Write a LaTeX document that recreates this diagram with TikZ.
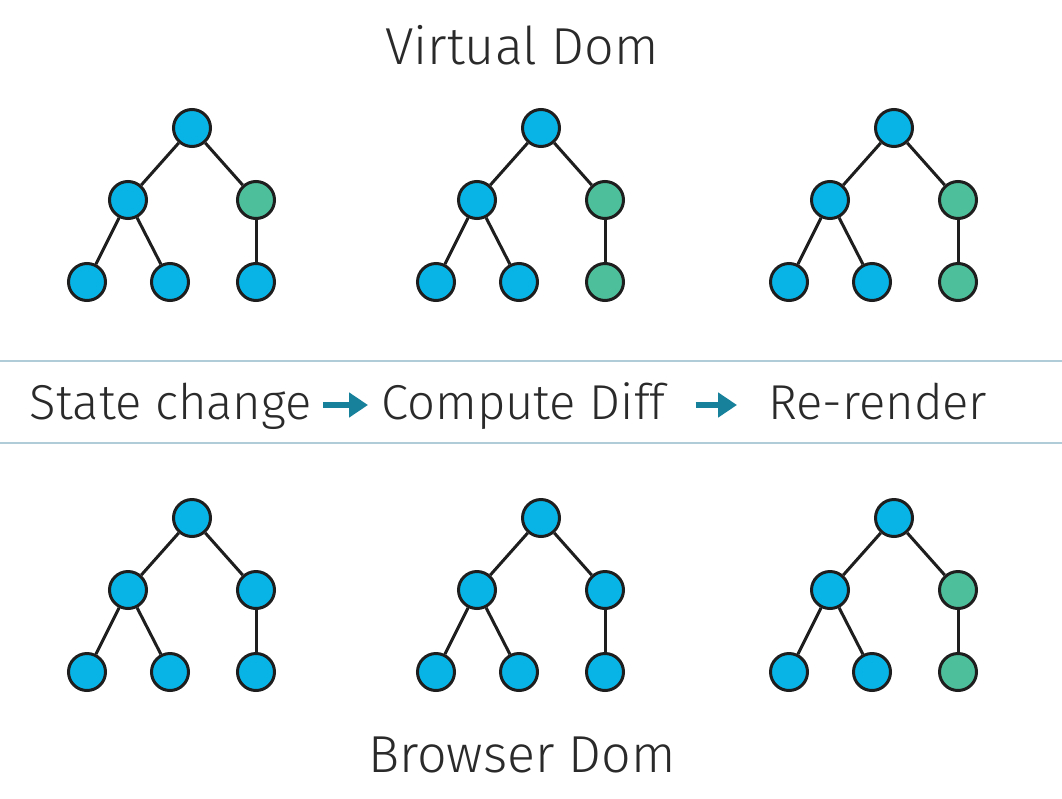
\documentclass[tikz,border=0pt]{standalone}
\usepackage{fontspec}
\IfFontExistsTF{Fira Sans Light}{\setmainfont{Fira Sans Light}}{\setmainfont{Fira Sans}}
\usetikzlibrary{arrows.meta}
\definecolor{nodeblue}{HTML}{08B4E6}
\definecolor{nodegreen}{HTML}{4DBF9B}
\definecolor{edgecol}{HTML}{1E1E1E}
\definecolor{rulecol}{HTML}{B0CCD8}
\definecolor{arrcol}{HTML}{17809A}
\definecolor{txtcol}{HTML}{2A2A2A}
\tikzset{
  tn/.style={circle, draw=edgecol, line width=3pt, minimum size=37pt, inner sep=0pt},
  bn/.style={tn, fill=nodeblue},
  gn/.style={tn, fill=nodegreen},
  edge/.style={draw=edgecol, line width=3pt},
  lbl/.style={text=txtcol, font=\fontsize{49}{52}\selectfont, inner sep=0pt},
  ttl/.style={text=txtcol, font=\fontsize{52}{55}\selectfont, inner sep=0pt},
  sep/.style={draw=rulecol, line width=2pt},
  arr/.style={draw=arrcol, line width=6pt, -{Triangle[length=19pt 0 0,width=24pt 0 0]}}
}
% #1 prefix, #2 x, #3 y, #4 style mid-right, #5 style leaf-right
\newcommand\domtree[5]{%
  \node[bn] (#1r) at (#2,#3) {};
  \node[bn] (#1a) at (#2-64,#3+72) {};
  \node[#4] (#1b) at (#2+64,#3+72) {};
  \node[bn] (#1c) at (#2-105,#3+154) {};
  \node[bn] (#1d) at (#2-22,#3+154) {};
  \node[#5] (#1e) at (#2+64,#3+154) {};
  \draw[edge] (#1r) -- (#1a);
  \draw[edge] (#1r) -- (#1b);
  \draw[edge] (#1a) -- (#1c);
  \draw[edge] (#1a) -- (#1d);
  \draw[edge] (#1b) -- (#1e);
}
\begin{document}
\begin{tikzpicture}[x=1pt,y=-1pt]
\useasboundingbox (0,0) rectangle (1062,798);
\fill[white] (0,0) rectangle (1062,798);

\node[ttl, anchor=base] (vdom) at (522,64) {Virtual Dom};
\node[ttl, anchor=base] (bdom) at (522,772) {Browser Dom};

\domtree{ta}{192}{128}{gn}{bn}
\domtree{tb}{541}{128}{gn}{gn}
\domtree{tc}{894}{128}{gn}{gn}
\domtree{ba}{192}{518}{bn}{bn}
\domtree{bb}{541}{518}{bn}{bn}
\domtree{bc}{894}{518}{gn}{gn}

\coordinate (l1a) at (0,361);
\coordinate (l1b) at (1062,361);
\coordinate (l2a) at (0,443);
\coordinate (l2b) at (1062,443);
\draw[sep] (l1a) -- (l1b);
\draw[sep] (l2a) -- (l2b);

\node[lbl, anchor=base east] (state) at (312,419) {State change};
\node[lbl, anchor=base west] (compute) at (381,419) {Compute Diff};
\node[lbl, anchor=base west] (rerender) at (768,419) {Re-render};

\draw[arr, shorten <=11pt, shorten >=13pt] ([yshift=14pt]state.base east) -- ([yshift=14pt]compute.base west);
\draw[arr, shorten <=30pt, shorten >=31pt] ([yshift=14pt]compute.base east) -- ([yshift=14pt]rerender.base west);
\end{tikzpicture}
\end{document}
